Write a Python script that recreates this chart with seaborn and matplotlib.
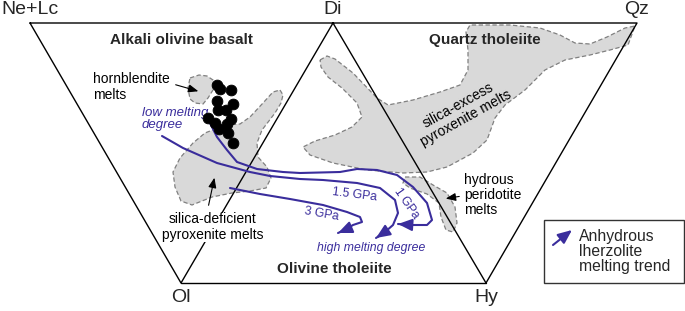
import matplotlib
matplotlib.use("Agg")
import matplotlib.pyplot as plt
import pandas as pd
import seaborn as sb

sb.set_theme(style="white")
plt.rcParams["font.family"] = ["Liberation Sans", "DejaVu Sans"]

BLUE = "#3a2d9c"
GRAY_FILL = "#d9d9d9"
GRAY_EDGE = "#808080"

# corners of the two triangles (pixel frame of the original figure)
corner_names = ["Ne+Lc", "Di", "Qz", "Ol", "Hy"]
corner_x = [30, 333, 637, 181, 486]
corner_y = [23, 23, 23, 283, 283]

# outlines: Ne+Lc-Qz top, Ne+Lc-Ol-Di, Di-Hy-Qz, Ol-Hy
frame_x = [30, 637, 486, 333, 181, 30]
frame_y = [23, 23, 283, 23, 283, 23]
base_x = [181, 486]
base_y = [283, 283]

# melt fields (dashed gray outlines)
hornblendite_x = [190, 199, 207, 213, 213, 208, 203, 195, 190, 188]
hornblendite_y = [78, 75, 76, 80, 90, 98, 104, 103, 99, 88]

deficient_x = [280, 283, 281, 275, 262, 257, 258, 267, 271, 266, 250, 232, 212, 192,
               181, 175, 173, 180, 193, 205, 225, 240, 250, 263, 273]
deficient_y = [90, 95, 103, 113, 130, 143, 157, 167, 178, 188, 191, 193, 197, 205,
               201, 187, 172, 158, 143, 133, 125, 124, 117, 103, 92]

excess_x = [320, 327, 335, 353, 377, 388, 413, 440, 460, 468, 468, 466, 470, 510, 540,
            560, 575, 590, 607, 625, 635, 628, 610, 590, 565, 545, 525, 505, 495, 487,
            473, 447, 427, 403, 367, 333, 310, 303, 315, 335, 352, 362, 357, 342, 328, 321]
excess_y = [60, 56, 59, 73, 98, 105, 100, 92, 85, 70, 50, 32, 25, 25, 28,
            35, 43, 44, 37, 28, 26, 45, 50, 55, 60, 70, 90, 105, 118, 140,
            153, 167, 172, 173, 170, 163, 155, 147, 141, 135, 127, 117, 103, 88, 77, 67]

hydrous_x = [405, 420, 433, 447, 455, 457, 453, 446, 441, 439, 427, 410, 403]
hydrous_y = [177, 177, 185, 193, 207, 223, 232, 230, 217, 203, 194, 188, 183]

# natural samples (black dots)
dots_x = [217, 220, 231, 217, 233, 218, 226, 231, 227, 208, 215, 219, 228, 233]
dots_y = [85, 89, 90, 101, 104, 110, 110, 119, 124, 118, 123, 129, 133, 143]

# anhydrous lherzolite melting trends
gpa1_x = [210, 217, 227, 237, 257, 283, 300, 340, 357, 377, 397, 413, 427, 432, 427, 413, 398]
gpa1_y = [123, 137, 150, 162, 169, 172, 173, 172, 169, 170, 175, 187, 203, 220, 225, 225, 224]

gpa15_x = [162, 183, 217, 250, 270, 300, 323, 357, 380, 395, 398, 393, 385, 376]
gpa15_y = [136, 148, 163, 172, 176, 179, 180, 183, 188, 200, 213, 225, 232, 238]

gpa3_x = [230, 260, 290, 323, 347, 360, 362, 353, 345, 338]
gpa3_y = [188, 194, 199, 205, 212, 217, 222, 225, 230, 233]

fig = plt.figure(figsize=(6.85, 3.11), dpi=100)
ax = fig.add_axes([0, 0, 1, 1])
ax.set_xlim(0, 685)
ax.set_ylim(311, 0)
ax.axis("off")

dash = dict(facecolor=GRAY_FILL, edgecolor=GRAY_EDGE, linestyle=(0, (3.5, 2)), linewidth=0.9, zorder=1)
for fx, fy in [(deficient_x, deficient_y), (excess_x, excess_y),
               (hornblendite_x, hornblendite_y), (hydrous_x, hydrous_y)]:
    ax.fill(fx, fy, **dash)

frame = pd.DataFrame({"x": frame_x, "y": frame_y})
sb.lineplot(data=frame, x="x", y="y", sort=False, estimator=None, color="black", lw=1.0, ax=ax, zorder=2)
ax.plot(base_x, base_y, color="black", lw=1.0, zorder=2)

dots = pd.DataFrame({"x": dots_x, "y": dots_y})
sb.scatterplot(data=dots, x="x", y="y", s=60, color="black", edgecolor="black", ax=ax, zorder=4)

for cx, cy in [(gpa1_x, gpa1_y), (gpa15_x, gpa15_y), (gpa3_x, gpa3_y)]:
    d = pd.DataFrame({"x": cx, "y": cy})
    sb.lineplot(data=d, x="x", y="y", sort=False, estimator=None, color=BLUE, lw=1.5, ax=ax, zorder=3)
    ax.annotate("", xy=(cx[-1], cy[-1]), xytext=(cx[-2], cy[-2]),
                arrowprops=dict(arrowstyle="-|>,head_length=0.7,head_width=0.3", color=BLUE, lw=1.5,
                                shrinkA=0, shrinkB=0), zorder=3)
ax.set_xlabel("")
ax.set_ylabel("")

# corner labels
for name, x, y in zip(corner_names, corner_x, corner_y):
    dy = -13 if y < 100 else 15
    ax.text(x, y + dy, name, ha="center", va="center", fontsize=14)

# field names
bold = dict(fontsize=11, fontweight="bold", ha="center", va="center")
ax.text(181, 40, "Alkali olivine basalt", **bold)
ax.text(485, 40, "Quartz tholeiite", **bold)
ax.text(334, 269, "Olivine tholeiite", **bold)

ann = dict(fontsize=10, color="black")
ax.text(93, 87, "hornblendite\nmelts", ha="left", va="center", linespacing=1.1, **ann)
ax.annotate("", xy=(201, 92), xytext=(173, 84),
            arrowprops=dict(arrowstyle="-|>,head_length=0.5,head_width=0.2", color="black", lw=0.8))
ax.text(213, 227, "silica-deficient\npyroxenite melts", ha="center", va="center", linespacing=1.1,
        bbox=dict(facecolor="white", edgecolor="none", pad=0.3), zorder=5, **ann)
ax.annotate("", xy=(215, 175), xytext=(208, 208),
            arrowprops=dict(arrowstyle="-|>,head_length=0.5,head_width=0.2", color="black", lw=0.8))
ax.text(462, 112, "silica-excess\npyroxenite melts", ha="center", va="center", rotation=29,
        linespacing=1.05, **ann)
ax.text(464, 195, "hydrous\nperidotite\nmelts", ha="left", va="center", linespacing=1.05, **ann)
ax.annotate("", xy=(443, 199), xytext=(462, 196),
            arrowprops=dict(arrowstyle="-|>,head_length=0.5,head_width=0.2", color="black", lw=0.8))

# trend labels
blue_txt = dict(color=BLUE, fontsize=8.8, ha="center", va="center")
ax.text(142, 119, "low melting\ndegree", ha="left", style="italic", linespacing=1.1,
        color=BLUE, fontsize=9.5, va="center")
ax.text(371, 248, "high melting degree", style="italic", **blue_txt)
ax.text(355, 195, "1.5 GPa", rotation=-7, **blue_txt)
ax.text(406, 203, "1 GPa", rotation=-55, **blue_txt)
ax.text(322, 214, "3 GPa", rotation=-10, **blue_txt)

# legend box
ax.add_patch(plt.Rectangle((544, 220), 140, 63, facecolor="white", edgecolor="#333333", lw=1.0, zorder=5))
ax.annotate("", xy=(572, 230), xytext=(553, 245),
            arrowprops=dict(arrowstyle="-|>,head_length=0.7,head_width=0.3", color=BLUE, lw=1.5,
                            shrinkA=0, shrinkB=0), zorder=6)
ax.text(579, 251, "Anhydrous\nlherzolite\nmelting trend", ha="left", va="center", fontsize=11.3,
        linespacing=1.0, zorder=6)

fig.savefig("out.png", dpi=100)
